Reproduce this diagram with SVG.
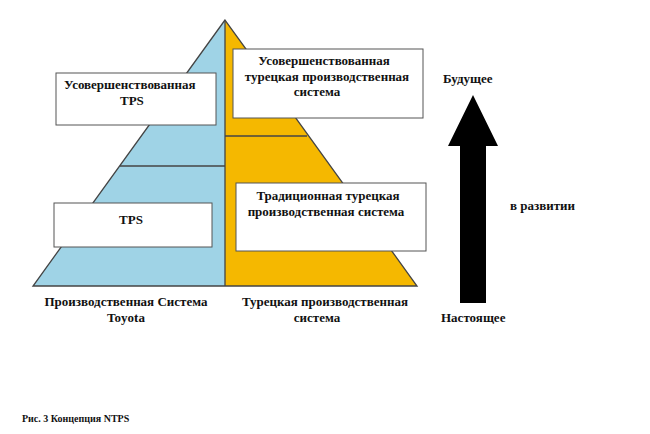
<svg xmlns="http://www.w3.org/2000/svg" width="650" height="434" viewBox="0 0 650 434">
<style>
text{font-family:"Liberation Serif","DejaVu Serif",serif;font-weight:bold;font-size:13px;fill:#111}
.box{fill:#fff;stroke:#555;stroke-width:1}
.ln{stroke:#444;stroke-width:1.3;fill:none}
</style>
<rect width="650" height="434" fill="#fff"/>
<g id="pyramid">
<polygon points="225,20 33,286 225,286" fill="#9fd3e6"/>
<polygon points="225,20 417,286 225,286" fill="#f5b800"/>
<polygon points="225,20 33,286 417,286" class="ln"/>
<line x1="225" y1="20" x2="225" y2="286" class="ln"/>
<line x1="120" y1="166" x2="225" y2="166" class="ln"/>
<line x1="225" y1="136" x2="307" y2="136" class="ln"/>
</g>
<g id="box-adv-tps">
<rect class="box" x="56" y="73" width="160" height="52"/>
<text x="64" y="89">Усовершенствованная</text>
<text x="120" y="105">TPS</text>
</g>
<g id="box-tps">
<rect class="box" x="54" y="203" width="158" height="44"/>
<text x="131" y="224" text-anchor="middle">TPS</text>
</g>
<g id="box-adv-turk">
<rect class="box" x="233" y="49" width="190" height="69"/>
<text x="324" y="65" text-anchor="middle">Усовершенствованная</text>
<text x="327" y="81" text-anchor="middle">турецкая производственная</text>
<text x="317" y="96" text-anchor="middle">система</text>
</g>
<g id="box-trad-turk">
<rect class="box" x="236" y="183" width="190" height="68"/>
<text x="328" y="200" text-anchor="middle">Традиционная турецкая</text>
<text x="326" y="216" text-anchor="middle">производственная система</text>
</g>
<g id="labels">
<text x="126" y="306" text-anchor="middle">Производственная Система</text>
<text x="126" y="322" text-anchor="middle">Toyota</text>
<text x="325" y="306" text-anchor="middle">Турецкая производственная</text>
<text x="317" y="322" text-anchor="middle">система</text>
</g>
<g id="arrow">
<polygon points="473,95 498,146 486,146 486,303 460,303 460,146 448,146" fill="#000"/>
<text x="443" y="83">Будущее</text>
<text x="510" y="210">в развитии</text>
<text x="441" y="322">Настоящее</text>
</g>
<text x="22" y="422" style="font-size:10px">Рис. 3 Концепция NTPS</text>
</svg>
